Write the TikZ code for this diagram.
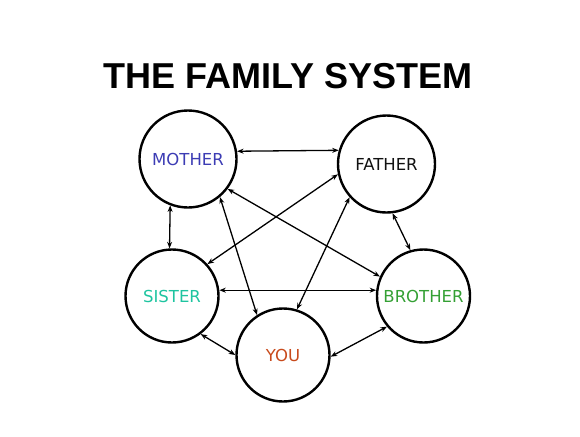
\documentclass[tikz,border=0pt]{standalone}
\usepackage{fontspec}
\setmainfont{DejaVu Sans}
\newfontfamily\titlefont{Liberation Sans}
\usetikzlibrary{arrows.meta}
\definecolor{cmother}{HTML}{3C3CB4}
\definecolor{cfather}{HTML}{111111}
\definecolor{csister}{HTML}{1EC4A0}
\definecolor{cyou}{HTML}{C84A1C}
\definecolor{cbrother}{HTML}{34A034}
\begin{document}
\begin{tikzpicture}[x=1pt,y=-1pt,
  member/.style={circle,draw=black,line width=2.4pt,inner sep=0pt,font=\fontsize{16.5}{19}\selectfont},
  big/.style={minimum size=97pt},
  small/.style={minimum size=93pt},
  link/.style={line width=1.3pt,{Stealth[length=6.5pt,width=5pt]}-{Stealth[length=6.5pt,width=5pt]}}
]
\useasboundingbox (0,0) rectangle (580,436);
\node[font=\titlefont\bfseries\fontsize{36}{40}\selectfont] (title) at (288,76) {THE FAMILY SYSTEM};
\node[member,big,text=cmother] (m) at (188,159) {MOTHER};
\node[member,big,text=cfather] (f) at (386.5,164) {FATHER};
\node[member,small,text=csister] (s) at (172,296) {SISTER};
\node[member,small,text=cyou] (y) at (283,355) {YOU};
\node[member,small,text=cbrother] (b) at (423.5,296) {BROTHER};
\draw[link] (m.9) -- (f.164);
\draw[link] (m.249) -- (s.93);
\draw[link] (m.-50) -- (y.123);
\draw[link] (m.-37) -- (b.156);
\draw[link] (s.42) -- (f.192);
\draw[link] (s.7) -- (b.173);
\draw[link] (y.73) -- (f.222);
\draw[link] (f.-83) -- (b.106);
\draw[link] (s.-53) -- (y.180);
\draw[link] (y.-2) -- (b.220);
\end{tikzpicture}
\end{document}
